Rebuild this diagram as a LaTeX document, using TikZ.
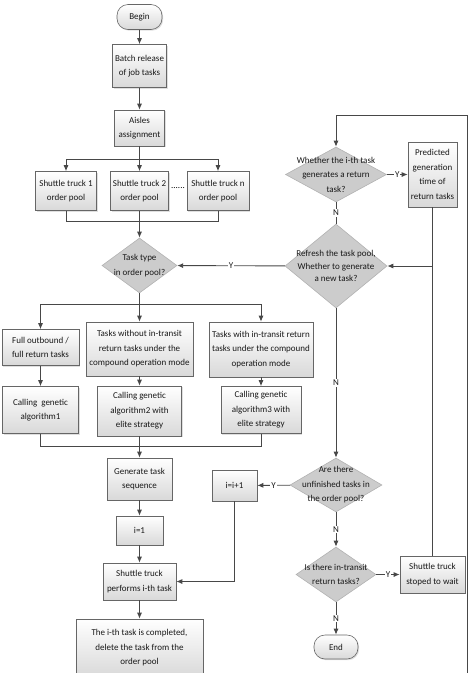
\documentclass[tikz,border=0pt]{standalone}
\usepackage{fontspec}
\setmainfont{Carlito}
\usetikzlibrary{shapes.geometric,shadows,arrows,arrows.meta}

\begin{document}
\begin{tikzpicture}
		[x=1pt,y=-1pt,>={Latex[length=6pt,width=5pt]},
		font=\fontsize{9}{14.5}\selectfont,
		wh/.style 2 args={minimum width=#1pt,minimum height=#2pt},
		b/.style= {rectangle,draw=black!60,line width=.6pt,top color=white,bottom color=black!15,
			drop shadow={shadow xshift=1.2pt,shadow yshift=-1.2pt,opacity=.25},
			align=center,inner sep=1pt,text=black!90},
		t/.style= {b,rounded corners=11pt},
		d/.style= {diamond,draw=black!30,line width=.6pt,fill=black!20,align=center,
			inner xsep=-40pt,inner ysep=-30pt,text=black!90},
		l/.style= {draw=black!72,line width=.9pt},
		yn/.style= {fill=white,inner sep=1pt,text=black!90},
		every edge/.style={l}]

		\useasboundingbox (0,0) rectangle (474,673);

		% left column
		\node[t,wh={45}{25}] (n0) at (139.5,17) {Begin};

		\node[b,wh={54}{43}] (n1) at (139.5,66) {Batch release\\of job tasks}
			edge [<-]	(n0)
		;

		\node[b,wh={50}{36}] (n2) at (139.5,128) {Aisles\\assignment}
			edge [<-]	(n1)
		;

		\node[b,wh={61}{39}] (n3) at (66,191) {Shuttle truck 1\\order pool};

		\node[b,wh={58}{39}] (n4) at (139.5,191) {Shuttle truck 2\\order pool}
			edge [<-]	(n2)
		;

		\node[b,wh={62}{39}] (n5) at (218,191) {Shuttle truck n\\order pool};

		\node (n25) at (178,188) {......};

		\node[d,wh={75}{55}] (n6) at (139.5,265.5) {Task type\\in order pool?}
			edge [<-]	(n4)
		;

		\node[b,wh={77}{36}] (n7) at (40.5,347.5) {Full outbound /\\full return tasks};

		\node[b,wh={107}{54}] (n8) at (139.5,349) {Tasks without in-transit\\return tasks under the\\compound operation mode}
			edge [<-]	(n6)
		;

		\node[b,wh={104}{55}] (n9) at (261,349.5) {Tasks with in-transit return\\tasks under the compound\\operation mode};

		\node[b,wh={76}{47}] (n10) at (40.5,410) {Calling~ genetic\\algorithm1}
			edge [<-]	(n7)
		;

		\node[b,wh={84}{50}] (n11) at (139.5,411) {Calling genetic\\algorithm2 with\\elite strategy}
			edge [<-]	(n8)
		;

		\node[b,wh={80}{47}] (n12) at (261,410) {Calling genetic\\algorithm3 with\\elite strategy}
			edge [<-]	(n9)
		;

		\node[b,wh={65}{42}] (n13) at (139.5,479) {Generate task\\sequence}
			edge [<-]	(n11)
		;

		\node[b,wh={47}{29}] (n14) at (139.5,530.5) {i=1}
			edge [<-]	(n13)
		;

		\node[b,wh={73}{37}] (n15) at (139.5,581.5) {Shuttle truck\\performs i-th task}
			edge [<-]	(n14)
		;

		\node[b,wh={127}{58}] (n16) at (139.5,648) {The i-th task is completed,\\delete the task from the\\order pool}
			edge [<-]	(n15)
		;

		% right column
		\node[d,wh={101}{55}] (n17) at (336,174.5) {Whether the i-th task\\generates a return\\task?};

		\node[b,wh={49}{65}] (n18) at (432.5,174.5) {Predicted\\generation\\time of\\return tasks}
			edge [<-] node[yn] {Y}	(n17)
		;

		\node[d,wh={102}{84},font=\fontsize{9}{12.5}\selectfont] (n19) at (336,266) {Refresh the task pool,\\Whether to generate\\a new task?}
			edge [-] node[yn] {N}	(n17)
			edge [->] node[yn] {Y}	(n6)
		;

		\node[d,wh={92}{54}] (n20) at (336,485) {Are there\\unfinished tasks in\\the order pool?}
			edge [<-] node[yn] {N}	(n19)
		;

		\node[b,wh={45}{31}] (n21) at (234.5,485.5) {i=i+1}
			edge [<-] node[yn] {Y}	(n20)
		;

		\node[d,wh={80}{55}] (n23) at (336,574.5) {Is there in-transit\\return tasks?}
			edge [<-] node[yn] {N}	(n20)
		;

		\node[b,wh={65}{37}] (n22) at (432.5,574.5) {Shuttle truck\\stoped to wait}
			edge [<-] node[yn] {Y}	(n23)
			edge [-]	(n18)
		;

		\node[t,wh={44}{24}] (n24) at (336,647) {End}
			edge [<-] node[yn] {N}	(n23)
		;

		% elbow connectors
		\draw[l,->] (n2.south) -- ++(0,13) -| (n3);
		\draw[l,->] (n2.south) -- ++(0,13) -| (n5);
		\draw[l] (n3.south) -- ++(0,11) -| (n5.south);
		\draw[l,->] (n6.south) -- ++(0,11) -| (n7);
		\draw[l,->] (n6.south) -- ++(0,11) -| (n9);
		\draw[l] (n10.south) -- ++(0,13) -| (n12.south);
		\draw[l,->] (n21) |- (n15);
		\draw[l,->] (n18) |- (n19);

		\coordinate (c0) at (467,673);
		\coordinate (c1) at (467,115);
		\draw[l,->] (c0) -- (c1) -| (n17);

	\end{tikzpicture}
\end{document}
